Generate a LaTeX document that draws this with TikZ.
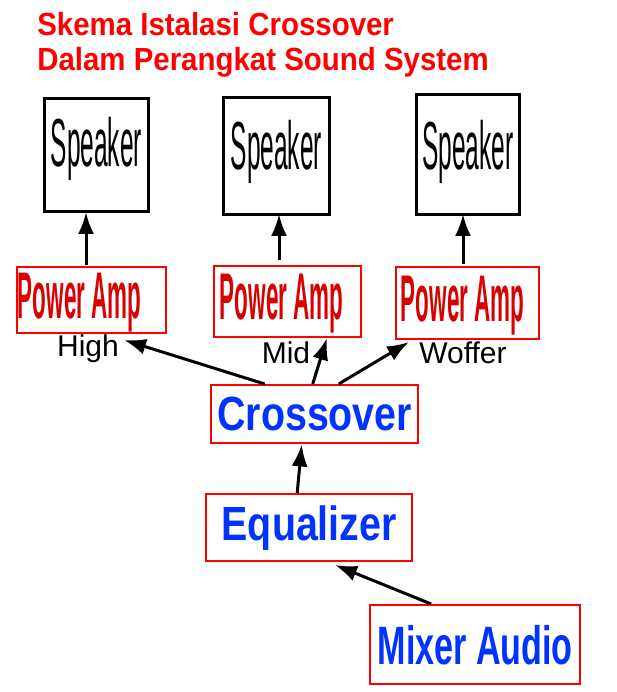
\documentclass[tikz,border=0pt]{standalone}
\usepackage{fontspec}
\setmainfont{Liberation Sans}
\usetikzlibrary{arrows.meta}
\begin{document}
\begin{tikzpicture}[x=1pt,y=-1pt,
  spk/.style={draw,line width=2.6pt,anchor=north west,inner sep=0pt},
  amp/.style={draw=red,line width=2.4pt,anchor=north west,inner sep=0pt},
  spktxt/.style={font=\fontsize{68}{68}\selectfont,xscale=0.36},
  amptxt/.style={font=\bfseries\fontsize{66}{66}\selectfont,text=red!85!black,xscale=0.34},
  bluetxt/.style={font=\bfseries\fontsize{48}{48}\selectfont,text=blue!80!cyan,xscale=0.82},
  ttl/.style={anchor=west,font=\bfseries\fontsize{32}{32}\selectfont,text=red,xscale=0.92},
  lbl/.style={font=\fontsize{30}{30}\selectfont},
  arr/.style={-{Latex[length=22pt,width=16pt]},line width=3pt,shorten >=0pt}]
\useasboundingbox (0,0) rectangle (617,692);
\node[ttl] (t1) at (34,24) {Skema Istalasi Crossover};
\node[ttl] (t2) at (34,62) {Dalam Perangkat Sound System};
% speakers
\node[spk,minimum width=104pt,minimum height=113pt] (s1) at (43,97) {};
\node[spk,minimum width=106pt,minimum height=117pt] (s2) at (222,96) {};
\node[spk,minimum width=103pt,minimum height=120pt] (s3) at (415,93) {};
\node[spktxt] at ([yshift=6pt]s1.center) {Speaker};
\node[spktxt] at ([yshift=4pt]s2.center) {Speaker};
\node[spktxt] at ([yshift=2pt]s3.center) {Speaker};
% power amps
\node[amp,minimum width=149pt,minimum height=66pt] (p1) at (16,266) {};
\node[amp,minimum width=147pt,minimum height=71pt] (p2) at (213,265) {};
\node[amp,minimum width=143pt,minimum height=72pt] (p3) at (395,266) {};
\node[amptxt] at ([xshift=-12pt,yshift=-2pt]p1.center) {Power Amp};
\node[amptxt] at ([xshift=-6pt,yshift=-2pt]p2.center) {Power Amp};
\node[amptxt] at ([xshift=-5pt,yshift=-2pt]p3.center) {Power Amp};
\node[lbl] (l1) at (88,349) {High};
\node[lbl] (l2) at (286,353) {Mid};
\node[lbl] (l3) at (463,353) {Woffer};
% lower boxes
\node[amp,minimum width=207pt,minimum height=58pt] (c) at (210,384) {};
\node[bluetxt] at (c.center) {Crossover};
\node[amp,minimum width=206pt,minimum height=67pt] (e) at (205,493) {};
\node[bluetxt] at (e.center) {Equalizer};
\node[amp,minimum width=210pt,minimum height=79pt] (m) at (369,604) {};
\node[bluetxt,font=\bfseries\fontsize{54}{54}\selectfont,xscale=0.77] at ([xshift=0pt]m.center) {Mixer Audio};
% arrows
\coordinate (a1) at (86,265); \coordinate (b1) at (86,212);
\coordinate (a2) at (279,260); \coordinate (b2) at (279,214);
\coordinate (a3) at (463,264); \coordinate (b3) at (463,214);
\draw[arr] (a1) -- (b1);
\draw[arr] (a2) -- (b2);
\draw[arr] (a3) -- (b3);
\coordinate (h) at (124,340); \coordinate (mi) at (327,338); \coordinate (w) at (409,342);
\draw[arr] ([xshift=-50pt]c.north) -- (h);
\draw[arr] ([xshift=-2pt]c.north) -- (mi);
\draw[arr] ([xshift=24pt]c.north) -- (w);
\draw[arr] ([xshift=-12pt]e.north) -- ([xshift=-13pt]c.south);
\draw[arr] ([xshift=-44pt]m.north) -- (335,565);
\end{tikzpicture}
\end{document}
